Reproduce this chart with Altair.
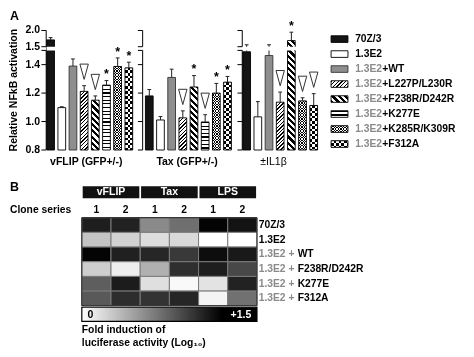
import math
import altair as alt
import pandas as pd

S = 0.955


def P(v):
    return round(v * S, 3)


FONT = "Liberation Sans"
W, H = P(474), P(357)

# ---------------- Panel A data ----------------
series = ["70Z/3", "1.3E2", "1.3E2 +WT", "1.3E2 +L227P/L230R", "1.3E2 +F238R/D242R",
          "1.3E2 +K277E", "1.3E2 +K285R/K309R", "1.3E2 +F312A"]
legend_grey = ["", "", "1.3E2", "1.3E2", "1.3E2", "1.3E2", "1.3E2", "1.3E2"]
legend_black = ["70Z/3", "1.3E2", "+WT", "+L227P/L230R", "+F238R/D242R", "+K277E",
                "+K285R/K309R", "+F312A"]
group_titles = ["vFLIP (GFP+/-)", "Tax (GFP+/-)", "\u00b1IL1\u03b2"]
y_title = "Relative NFkB activation"

vflip_mean = [1.71, 1.098, 1.39, 1.212, 1.15, 1.256, 1.387, 1.377]
vflip_err = [0.07, 0.006, 0.05, 0.04, 0.03, 0.032, 0.06, 0.04]
vflip_sig = ["", "", "", "ns", "ns", "*", "*", "*"]

tax_mean = [1.18, 1.011, 1.31, 1.026, 1.243, 0.997, 1.20, 1.277]
tax_err = [0.045, 0.024, 0.058, 0.049, 0.08, 0.051, 0.068, 0.04]
tax_sig = ["", "", "", "ns", "*", "ns", "*", "*"]

il1b_mean = [1.49, 1.033, 1.464, 1.136, 1.69, None, 1.145, 1.113]
il1b_err = [0.07, 0.107, 0.096, 0.071, 0.257, None, 0.022, 0.083]
il1b_sig = ["", "", "", "ns", "*", "", "ns", "ns"]

# tick values (real units) and their labels; "lower"/"upper" = the two parts of the broken axis
tick_values = [0.8, 1.0, 1.2, 1.4, 1.5, 1.5, 2.0]
tick_part = ["lower", "lower", "lower", "lower", "lower", "upper", "upper"]
tick_labels = ["0.8", "1.0", "1.2", "1.4", "", "1.5", "2.0"]

# ---------------- Panel B data ----------------
stimuli = ["vFLIP", "Tax", "LPS"]
clone_labels = ["1", "2", "1", "2", "1", "2"]
row_grey = ["", "", "1.3E2 +", "1.3E2 +", "1.3E2 +", "1.3E2 +"]
row_black = ["70Z/3", "1.3E2", "WT", "F238R/D242R", "K277E", "F312A"]
heat_70z3 = [1.06, 1.04, 0.55, 0.68, 1.18, 1.11]
heat_13e2 = [0.28, 0.21, 0.16, 0.18, 0.00, 0.00]
heat_wt = [1.18, 1.05, 1.02, 0.93, 1.14, 1.08]
heat_f238r = [0.23, 0.08, 0.37, 0.98, 1.06, 0.86]
heat_k277e = [0.76, 1.07, 0.15, 0.03, 0.13, 1.04]
heat_f312a = [0.78, 0.99, 0.96, 1.02, 0.05, 0.67]
colorbar_labels = ["0", "+1.5"]

# ---------------- broken y scale ----------------
D15 = 1.526
KUP = 0.228


def disp(v, part="auto"):
    if part == "upper" or (part == "auto" and v > 1.5):
        return D15 + (v - 1.5) * KUP
    return v


DTOP = disp(2.0)


def disp_js(e):
    return f"(({e}) <= 1.5 ? ({e}) : {D15} + (({e}) - 1.5) * {KUP})"


Y_PX0, PX_PER = 148.7, 149.0


def yscale():
    return alt.Scale(domain=[0.8, DTOP], range=[P(Y_PX0), P(Y_PX0 - (DTOP - 0.8) * PX_PER)],
                     nice=False, zero=False)


# ---------------- pattern helpers ----------------
def lin(x1, y1, x2, y2, stops):
    return {"gradient": "linear", "x1": x1, "y1": y1, "x2": x2, "y2": y2, "stops": stops}


def stripe_stops(n, duty, on, off):
    n = max(n, 1.0)
    p = 1.0 / n
    out = []
    i = 0
    while i * p < 1 - 1e-9:
        a = i * p
        b = min((i + duty) * p, 1.0)
        c = min((i + 1) * p, 1.0)
        out += [{"offset": round(a, 4), "color": on}, {"offset": round(b, 4), "color": on}]
        if b < 1.0:
            out += [{"offset": round(b, 4), "color": off}, {"offset": round(c, 4), "color": off}]
        i += 1
    return out


def diag(w, h, period, duty, on, off, rising=True):
    k = (w + h) / (w * w + h * h)
    n = (w + h) / (period * math.sqrt(2))
    st = stripe_stops(n, duty, on, off)
    if rising:
        return lin(0, 0, round(k * w, 5), round(k * h, 5), st)
    return lin(0, 1, round(k * w, 5), round(1 - k * h, 5), st)


def hstripes(h, period, duty, on, off):
    return lin(0, 0, 0, 1, stripe_stops(h / period, duty, on, off))


def vstripes(w, period, duty, on, off):
    return lin(0, 0, 1, 0, stripe_stops(w / period, duty, on, off))


PATTERN = ["black", "white", "grey", "fine_up", "thick_down", "hlines", "fine_check", "check"]
SW = 0.9


def fills(kind, w, h):
    if kind == "black":
        return [dict(fill="#141414", stroke="#000", strokeWidth=SW)]
    if kind == "white":
        return [dict(fill="#ffffff", stroke="#000", strokeWidth=SW)]
    if kind == "grey":
        return [dict(fill="#8e8e8e", stroke="#333", strokeWidth=SW)]
    if kind == "fine_up":
        return [dict(fill=diag(w, h, P(2.7), 0.4, "#000", "#fff", True), stroke="#000", strokeWidth=SW)]
    if kind == "thick_down":
        return [dict(fill=diag(w, h, P(4.6), 0.5, "#000", "#fff", False), stroke="#000", strokeWidth=SW)]
    if kind == "hlines":
        return [dict(fill=hstripes(h, P(3.8), 0.33, "#000", "#fff"), stroke="#000", strokeWidth=SW)]
    c = P(1.4) if kind == "fine_check" else P(2.7)
    return [dict(fill=hstripes(h, 2 * c, 0.5, "#000", "#fff"), strokeWidth=0),
            dict(fill=vstripes(w, 2 * c, 0.5, "#fff", "#000"), blend="difference", strokeWidth=0),
            dict(fill="#fff", fillOpacity=0, stroke="#000", strokeWidth=SW)]


def qx(f, sc):
    return alt.X(f, type="quantitative", scale=sc, axis=None)


def qy(f, sc):
    return alt.Y(f, type="quantitative", scale=sc, axis=None)


def dX(v, sc):
    return alt.XDatum(v, type="quantitative", scale=sc, axis=None)


def dY(v, sc):
    return alt.YDatum(v, type="quantitative", scale=sc, axis=None)


one = pd.DataFrame({"k": [0]})
ticks_df = pd.DataFrame({"v": [disp(v, p) for v, p in zip(tick_values, tick_part)],
                         "lab": tick_labels})
SLOT = 11.7
BW = 0.69
TICK = 5.0 / SLOT
TRI = "M-0.55,-1L0.55,-1L0,1Z"


def bar_panel(means, errs, sigs, slots, axis_x, slot0, nslots, first, title, title_cx, title_bold):
    idx = [i for i in range(8) if means[i] is not None]
    df = pd.DataFrame({"series": [series[i] for i in idx], "slot": [slots[i] for i in idx],
                       "mean": [means[i] for i in idx], "err": [errs[i] for i in idx],
                       "sig": [sigs[i] for i in idx], "pat": [PATTERN[i] for i in idx]})
    xs = alt.Scale(domain=[slot0, nslots], range=[P(axis_x), P(axis_x + (nslots - slot0) * SLOT)],
                   nice=False, zero=False)
    ys = yscale()
    base = alt.Chart(df).transform_calculate(
        d=disp_js("datum.mean"), dt=disp_js("datum.mean + datum.err"),
        x0="datum.slot + 0.05", x1=f"datum.slot + {0.05 + BW}", xc=f"datum.slot + {0.05 + BW / 2}",
        xa=f"datum.slot + {0.05 + BW / 2 - 0.17}", xb=f"datum.slot + {0.05 + BW / 2 + 0.17}", b="0.8")

    layers = []
    for _, row in df.iterrows():
        h = P((disp(row["mean"]) - 0.8) * PX_PER)
        w = P(BW * SLOT)
        for kw in fills(row["pat"], w, h):
            layers.append(base.transform_filter(alt.datum.slot == row["slot"]).mark_rect(**kw).encode(
                x=qx("x0", xs), x2="x1:Q", y=qy("d", ys), y2="b:Q"))
    # error bars
    layers.append(base.mark_rule(color="#222", strokeWidth=1).encode(
        x=qx("xc", xs), y=qy("d", ys), y2="dt:Q"))
    layers.append(base.mark_rule(color="#222", strokeWidth=1).encode(
        x=qx("xa", xs), x2="xb:Q", y=qy("dt", ys)))
    # axis break
    layers.append(alt.Chart(one).mark_rect(fill="white").encode(
        x=dX(slot0 + 0.04, xs), x2=alt.X2Datum(nslots), y=dY(1.5, ys), y2=alt.Y2Datum(D15)))
    # axis lines (two segments) and ticks
    layers.append(alt.Chart(one).mark_rule(color="#000", strokeWidth=1).encode(
        x=dX(slot0, xs), y=dY(0.8, ys), y2=alt.Y2Datum(1.5)))
    layers.append(alt.Chart(one).mark_rule(color="#000", strokeWidth=1).encode(
        x=dX(slot0, xs), y=dY(D15, ys), y2=alt.Y2Datum(DTOP)))
    tbase = alt.Chart(ticks_df).transform_calculate(t0=f"{slot0 - TICK}", t1=f"{slot0}")
    layers.append(tbase.mark_rule(color="#000", strokeWidth=1).encode(
        x=qx("t0", xs), x2="t1:Q", y=qy("v", ys)))
    if first:
        layers.append(tbase.mark_text(font=FONT, fontSize=P(11), fontWeight="bold", color="#000",
                                      align="right", baseline="middle", dx=-P(1.5)).encode(
            x=qx("t0", xs), y=qy("v", ys), text="lab:N"))
        layers.append(alt.Chart(one).mark_text(
            text=y_title, font=FONT, fontSize=P(11), fontWeight="bold", color="#000", angle=270,
            align="center", baseline="middle").encode(
            x=dX(slot0 + (6.7 - axis_x) / SLOT, xs), y=dY(0.8 + (Y_PX0 - 86) / PX_PER, ys)))
        layers.append(alt.Chart(one).mark_text(
            text="A", font=FONT, fontSize=P(13), fontWeight="bold", align="left",
            baseline="alphabetic", color="#000").encode(
            x=dX(slot0 + (2.0 - axis_x) / SLOT, xs), y=dY(0.8 + (Y_PX0 - 12.5) / PX_PER, ys)))
    # group title
    layers.append(alt.Chart(one).mark_text(
        text=title, font=FONT, fontSize=P(11), fontWeight="bold" if title_bold else "normal",
        color="#000", align="center", baseline="middle").encode(
        x=dX(slot0 + (title_cx - axis_x) / SLOT, xs), y=dY(0.8 + (Y_PX0 - 161) / PX_PER, ys)))
    # markers
    layers.append(base.transform_filter(alt.datum.sig == "ns").transform_calculate(
        ty="datum.dt + 0.098").mark_point(
        shape=TRI, size=(16 * S) ** 2, filled=True, fill="white", stroke="#333", strokeWidth=1,
        opacity=1).encode(x=qx("xc", xs), y=qy("ty", ys)))
    layers.append(base.transform_filter(alt.datum.sig == "*").mark_text(
        font=FONT, fontSize=P(13), fontWeight="bold", baseline="alphabetic", align="center",
        dy=-P(2.5), color="#000").encode(x=qx("xc", xs), y=qy("dt", ys), text="sig:N"))
    return alt.layer(*layers)


pA1 = bar_panel(vflip_mean, vflip_err, vflip_sig, list(range(8)), 40, 0, 8, True,
                group_titles[0], 82, True)
pA2 = bar_panel(tax_mean, tax_err, tax_sig, list(range(8)), 141, -0.2, 8, False,
                group_titles[1], 187.5, True)
pA3 = bar_panel(il1b_mean, il1b_err, il1b_sig, [0, 1, 2, 3, 4, None, 5, 6], 245.3, 0, 7, False,
                group_titles[2], 278, False)

# ---------------- legend ----------------
lg_df = pd.DataFrame({"i": list(range(8)), "grey": legend_grey, "black": legend_black})
LX = alt.Scale(domain=[0, 1], range=[P(338.3), P(356.0)], nice=False, zero=False)
LY = alt.Scale(domain=[0, 8], range=[P(24.7), P(150.3)], nice=False, zero=False)
sw_w, sw_h = P(17.7), P(0.44 * 15.7)
lbase = alt.Chart(lg_df).transform_calculate(
    ya="datum.i + 0.28", yb="datum.i + 0.72", yc="datum.i + 0.5", x0="0", x1="1")
leg_layers = []
for i in range(8):
    for kw in fills(PATTERN[i], sw_w, sw_h):
        leg_layers.append(lbase.transform_filter(alt.datum.i == i).mark_rect(**kw).encode(
            x=qx("x0", LX), x2="x1:Q", y=qy("ya", LY), y2="yb:Q"))
tk = dict(font=FONT, fontSize=P(10.8), fontWeight="bold", align="left", baseline="middle")
leg_layers.append(lbase.transform_filter("datum.i < 2").mark_text(dx=P(7.5), color="#000", **tk).encode(
    x=qx("x1", LX), y=qy("yc", LY), text="black:N"))
leg_layers.append(lbase.transform_filter("datum.i >= 2").mark_text(dx=P(7.5), color="#8a8a8a", **tk).encode(
    x=qx("x1", LX), y=qy("yc", LY), text="grey:N"))
leg_layers.append(lbase.transform_filter("datum.i >= 2").mark_text(dx=P(36), color="#000", **tk).encode(
    x=qx("x1", LX), y=qy("yc", LY), text="black:N"))
legend = alt.layer(*leg_layers)

# ---------------- Panel B heatmap ----------------
heat_rows = [heat_70z3, heat_13e2, heat_wt, heat_f238r, heat_k277e, heat_f312a]
cells = pd.DataFrame([{"row": r, "col": c, "val": v}
                      for r, vals in enumerate(heat_rows) for c, v in enumerate(vals)])
HX = alt.Scale(domain=[0, 6], range=[P(77.3), P(260.7)], nice=False, zero=False)
HY = alt.Scale(domain=[0, 6], range=[P(219.6), P(311.8)], nice=False, zero=False)
cscale = alt.Scale(domain=[0, 1.2, 1.5], range=["#ffffff", "#000000", "#000000"], interpolate="rgb")
tb = dict(font=FONT, fontWeight="bold", color="#000")

hl = []
hl.append(alt.Chart(cells).transform_calculate(c1="datum.col + 1", r1="datum.row + 1").mark_rect(
    stroke="#7a7a7a", strokeWidth=1).encode(
    x=qx("col", HX), x2="c1:Q", y=qy("row", HY), y2="r1:Q",
    color=alt.Color("val:Q", scale=cscale, legend=None)))
hl.append(alt.Chart(one).mark_rect(fill="#fff", fillOpacity=0, stroke="#222", strokeWidth=1).encode(
    x=dX(0, HX), x2=alt.X2Datum(6), y=dY(0, HY), y2=alt.Y2Datum(6)))

stim_df = pd.DataFrame({"g": [0, 1, 2], "stim": stimuli})
sbase = alt.Chart(stim_df).transform_calculate(
    gx0="2 * datum.g + 0.03", gx1="2 * datum.g + 1.97", gc="2 * datum.g + 1",
    gy0="-2.14", gy1="-1.32", gyc="-1.73")
hl.append(sbase.mark_rect(fill="#111").encode(x=qx("gx0", HX), x2="gx1:Q", y=qy("gy0", HY), y2="gy1:Q"))
hl.append(sbase.mark_text(font=FONT, fontWeight="bold", color="#fff", fontSize=P(11),
                          baseline="middle", align="center").encode(
    x=qx("gc", HX), y=qy("gyc", HY), text="stim:N"))

clone_df = pd.DataFrame({"col": list(range(6)), "lab": clone_labels})
hl.append(alt.Chart(clone_df).transform_calculate(cx="datum.col + 0.5", cy="-0.51").mark_text(
    fontSize=P(10.8), baseline="middle", align="center", **tb).encode(
    x=qx("cx", HX), y=qy("cy", HY), text="lab:N"))
hl.append(alt.Chart(one).mark_text(text="Clone series", fontSize=P(10.8), baseline="middle",
                                   align="left", **tb).encode(x=dX(-2.46, HX), y=dY(-0.51, HY)))
hl.append(alt.Chart(one).mark_text(text="B", fontSize=P(13), baseline="alphabetic",
                                   align="left", **tb).encode(x=dX(-2.46, HX), y=dY(-1.8, HY)))

rl_df = pd.DataFrame({"row": list(range(6)), "grey": row_grey, "black": row_black})
rbase = alt.Chart(rl_df).transform_calculate(ry="datum.row + 0.5", rx="6")
rk = dict(font=FONT, fontWeight="bold", fontSize=P(10.8), baseline="middle", align="left")
hl.append(rbase.transform_filter("datum.row < 2").mark_text(dx=P(1.8), color="#000", **rk).encode(
    x=qx("rx", HX), y=qy("ry", HY), text="black:N"))
hl.append(rbase.transform_filter("datum.row >= 2").mark_text(dx=P(1.8), color="#8a8a8a", **rk).encode(
    x=qx("rx", HX), y=qy("ry", HY), text="grey:N"))
hl.append(rbase.transform_filter("datum.row >= 2").mark_text(dx=P(42.6), color="#000", **rk).encode(
    x=qx("rx", HX), y=qy("ry", HY), text="black:N"))

# colour bar
cb_grad = lin(0, 0, 1, 0, [{"offset": 0, "color": "#ffffff"}, {"offset": 0.8, "color": "#000000"},
                           {"offset": 1, "color": "#000000"}])
hl.append(alt.Chart(one).mark_rect(fill=cb_grad, stroke="#000", strokeWidth=1.2).encode(
    x=dX(0, HX), x2=alt.X2Datum(6), y=dY(6.1, HY), y2=alt.Y2Datum(7.07)))
hl.append(alt.Chart(one).mark_text(text=colorbar_labels[0], fontSize=P(11), baseline="middle",
                                   align="left", dx=P(6), **tb).encode(x=dX(0, HX), y=dY(6.6, HY)))
hl.append(alt.Chart(one).mark_text(text=colorbar_labels[1], fontSize=P(11), baseline="middle",
                                   align="right", dx=-P(6), font=FONT, fontWeight="bold",
                                   color="#fff").encode(x=dX(6, HX), y=dY(6.6, HY)))
hl.append(alt.Chart(one).mark_text(text="Fold induction of", fontSize=P(10.8), baseline="middle",
                                   align="left", **tb).encode(x=dX(0, HX), y=dY(7.62, HY)))
hl.append(alt.Chart(one).mark_text(text="luciferase activity (Log\u2081\u2080)", fontSize=P(10.8),
                                   baseline="middle", align="left", **tb).encode(
    x=dX(0, HX), y=dY(8.53, HY)))
heat = alt.layer(*hl)

chart = alt.layer(pA1, pA2, pA3, legend, heat).resolve_scale(
    x="independent", y="independent", color="independent"
).properties(
    width=W, height=H, padding=0, autosize=alt.AutoSizeParams(type="none")
).configure_view(strokeWidth=0)

chart.save("out.html", embed_options={"renderer": "svg", "actions": False})
